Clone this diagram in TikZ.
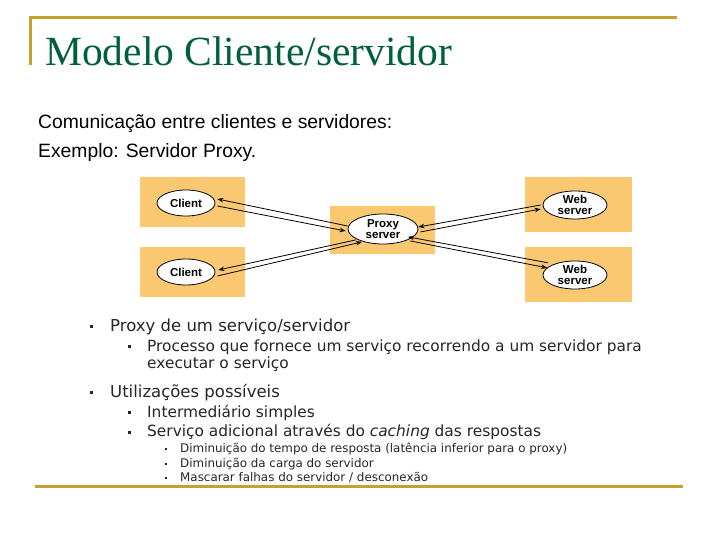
\documentclass[tikz,border=0pt]{standalone}
\usepackage{fontspec}
\setmainfont{Liberation Serif}
\newfontfamily\arial{Liberation Sans}
\newfontfamily\verd{DejaVu Sans}
\usetikzlibrary{arrows.meta}
\definecolor{gold}{HTML}{C8A030}
\definecolor{tgreen}{HTML}{00603A}
\definecolor{boxor}{HTML}{FAC870}
\tikzset{
 bg/.style={fill=boxor,draw=none},
 ell/.style={ellipse,draw,thick,fill=white,font=\arial\fontsize{11.5}{11}\selectfont\bfseries,align=center,inner sep=0pt},
 arr/.style={-{Stealth[length=6pt]},thick},
 lone/.style={anchor=base west,inner sep=0,font=\verd\fontsize{16.5}{18}\selectfont,text=black!85},
 ltwo/.style={anchor=base west,inner sep=0,font=\verd\fontsize{15.4}{17}\selectfont,text=black!85},
 lthree/.style={anchor=base west,inner sep=0,font=\verd\fontsize{11.9}{13}\selectfont,text=black!85},
 blt/.style={fill=black!85,minimum size=3pt,inner sep=0pt}
}
\usetikzlibrary{shapes.geometric}
\begin{document}
\begin{tikzpicture}[x=1pt,y=-1pt]
\useasboundingbox (0,0) rectangle (720,540);
\fill[white] (0,0) rectangle (720,540);
\draw[gold,line width=3pt] (30,65) -- (30,18) -- (677,18);
\draw[gold,line width=3pt] (35,486) -- (683,486);
\node[anchor=base west,text=tgreen,font=\fontsize{41.5}{44}\selectfont,inner sep=0] (title) at (45,66) {Modelo Cliente/servidor};
\node[anchor=base west,font=\arial\fontsize{19.3}{22}\selectfont,inner sep=0] (t1) at (38,129) {Comunicação entre clientes e servidores:};
\node[anchor=base west,font=\arial\fontsize{19.3}{22}\selectfont,inner sep=0] (t2) at (38,158) {Exemplo: Servidor Proxy.};
% boxes
\fill[bg] (140,177) rectangle (245,227);
\fill[bg] (140,247) rectangle (245,297);
\fill[bg] (330,206) rectangle (435,254);
\fill[bg] (525,177) rectangle (632,232);
\fill[bg] (525,247) rectangle (632,302);
\node[ell,minimum width=58pt,minimum height=26pt] (c1) at (186,203) {Client};
\node[ell,minimum width=58pt,minimum height=26pt] (c2) at (186,272) {Client};
\node[ell,minimum width=70pt,minimum height=30pt] (p) at (383,229) {Proxy\\server};
\node[ell,minimum width=64pt,minimum height=28pt] (w1) at (575,205) {Web\\server};
\node[ell,minimum width=64pt,minimum height=28pt] (w2) at (575,275) {Web\\server};
\draw[arr] ([shift={(0,-3)}]p.west) -- ([shift={(2,-4)}]c1.east);
\draw[arr] ([shift={(2,3)}]c1.east) -- ([shift={(-2,2)}]p.west);
\draw[arr] ([shift={(-2,0)}]p.south west) -- ([shift={(3,-2)}]c2.east);
\draw[arr] ([shift={(2,4)}]c2.east) -- ([shift={(4,2)}]p.south west);
\draw[arr] ([shift={(-2,0)}]w1.west) -- ([shift={(0,-2)}]p.east);
\draw[arr] ([shift={(2,3)}]p.east) -- ([shift={(-2,4)}]w1.west);
\draw[arr] ([shift={(-4,-2)}]w2.north west) -- ([shift={(0,-3)}]p.south east);
\draw[arr] ([shift={(2,1)}]p.south east) -- ([shift={(-5,3)}]w2.north west);
% bullets
\node[blt] (b1) at (91,326) {};
\node[lone] (l1) at (110,331) {Proxy de um serviço/servidor};
\node[blt] (b2) at (129,346) {};
\node[ltwo] (l2) at (147,351) {Processo que fornece um serviço recorrendo a um servidor para};
\node[ltwo] (l3) at (147,368) {executar o serviço};
\node[blt] (b3) at (91,392) {};
\node[lone] (l4) at (110,397) {Utilizações possíveis};
\node[blt] (b4) at (129,412) {};
\node[ltwo] (l5) at (147,417) {Intermediário simples};
\node[blt] (b5) at (129,432) {};
\node[ltwo] (l6) at (147,436) {Serviço adicional através do \textit{caching} das respostas};
\node[blt,minimum size=2.2pt] (b6) at (166,449) {};
\node[lthree] (l7) at (180,452) {Diminuição do tempo de resposta (latência inferior para o proxy)};
\node[blt,minimum size=2.2pt] (b7) at (166,464) {};
\node[lthree] (l8) at (180,467) {Diminuição da carga do servidor};
\node[blt,minimum size=2.2pt] (b8) at (166,478) {};
\node[lthree] (l9) at (180,481) {Mascarar falhas do servidor / desconexão};
\end{tikzpicture}
\end{document}
